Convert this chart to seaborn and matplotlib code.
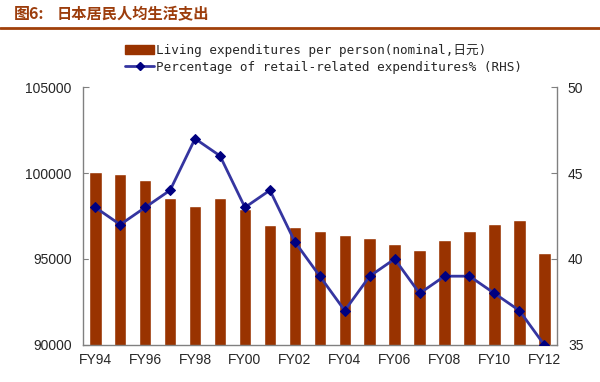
import numpy as np
import matplotlib
matplotlib.use("Agg")
import matplotlib.pyplot as plt
import seaborn as sns
from matplotlib.lines import Line2D
from matplotlib.patches import Patch

# Data
years = ['FY94', 'FY95', 'FY96', 'FY97', 'FY98', 'FY99', 'FY00', 'FY01', 'FY02', 'FY03',
         'FY04', 'FY05', 'FY06', 'FY07', 'FY08', 'FY09', 'FY10', 'FY11', 'FY12']
living_exp = [100050, 99950, 99600, 98550, 98100, 98550, 97900, 97000, 96850, 96600,
              96400, 96200, 95900, 95550, 96100, 96600, 97050, 97250, 95350]
retail_pct = [43, 42, 43, 44, 47, 46, 43, 44, 41, 39,
              37, 39, 40, 38, 39, 39, 38, 37, 35]

BAR_COLOR = '#993300'
LINE_COLOR = '#3535A0'
MARKER_COLOR = '#000080'
TITLE_COLOR = '#9C3D0C'

sns.set_style("white")
plt.rcParams['font.family'] = ['Liberation Sans', 'Noto Sans CJK SC']

fig = plt.figure(figsize=(6, 3.82), dpi=100)
ax = fig.add_axes([0.138, 0.097, 0.79, 0.675])

x = np.arange(len(years))
sns.barplot(x=years, y=living_exp, color=BAR_COLOR, width=0.5, saturation=1, ax=ax)
ax.set_ylim(90000, 105000)
ax.set_xlim(-0.5, len(years) - 0.5)
ax.set_yticks([90000, 95000, 100000, 105000])

ax2 = ax.twinx()
sns.lineplot(x=x, y=retail_pct, color=LINE_COLOR, linewidth=2, marker='D', markersize=5,
             markerfacecolor=MARKER_COLOR, markeredgecolor=MARKER_COLOR, ax=ax2)
ax2.set_ylim(35, 50)
ax2.set_yticks([35, 40, 45, 50])
ax2.set_xlim(-0.5, len(years) - 0.5)

# x ticks: labels every other year, tick marks at category boundaries
ax.set_xticks(x[::2])
ax.set_xticklabels(years[::2])
ax.set_xticks(np.arange(0.5, len(years) - 0.5, 1), minor=True)
ax.tick_params(axis='x', which='major', length=0, labelsize=10, pad=6)
ax.tick_params(axis='x', which='minor', length=4, direction='in', color='#808080')
ax.tick_params(axis='y', length=4, direction='in', labelsize=10, color='#808080', pad=8)
ax2.tick_params(axis='y', length=4, direction='in', labelsize=10, color='#808080', pad=8)
ax.set_xlabel('')

for a in (ax, ax2):
    a.spines['top'].set_visible(False)
    for s in ('left', 'right', 'bottom'):
        a.spines[s].set_color('#808080')
        a.spines[s].set_linewidth(1)
ax.spines['right'].set_visible(False)
ax2.spines['left'].set_visible(False)
ax2.spines['bottom'].set_visible(False)

# legend
handles = [Patch(facecolor=BAR_COLOR, edgecolor=BAR_COLOR),
           Line2D([], [], color=LINE_COLOR, linewidth=2, marker='D', markersize=4,
                  markerfacecolor=MARKER_COLOR, markeredgecolor=MARKER_COLOR)]
labels = ['Living expenditures per person(nominal,日元)',
          'Percentage of retail-related expenditures% (RHS)']
fig.legend(handles, labels, loc='upper left', bbox_to_anchor=(0.19, 0.915),
           frameon=False, handlelength=2.3, handletextpad=0.1, labelspacing=0.3,
           prop={'family': ['DejaVu Sans Mono', 'Noto Sans CJK SC'], 'size': 9.1})

# title and rule
fig.text(0.023, 0.963, '图6:', color=TITLE_COLOR, fontsize=11.5,
         fontweight='bold', va='center', ha='left',
         family=['Noto Sans CJK SC', 'DejaVu Sans'])
fig.text(0.095, 0.963, '日本居民人均生活支出', color=TITLE_COLOR, fontsize=11,
         fontweight='bold', va='center', ha='left',
         family=['Noto Sans CJK SC', 'DejaVu Sans'])
fig.add_artist(Line2D([0, 1], [0.928, 0.928], color='#A0400A', linewidth=2,
                      transform=fig.transFigure))

fig.savefig('out.png', dpi=100)
